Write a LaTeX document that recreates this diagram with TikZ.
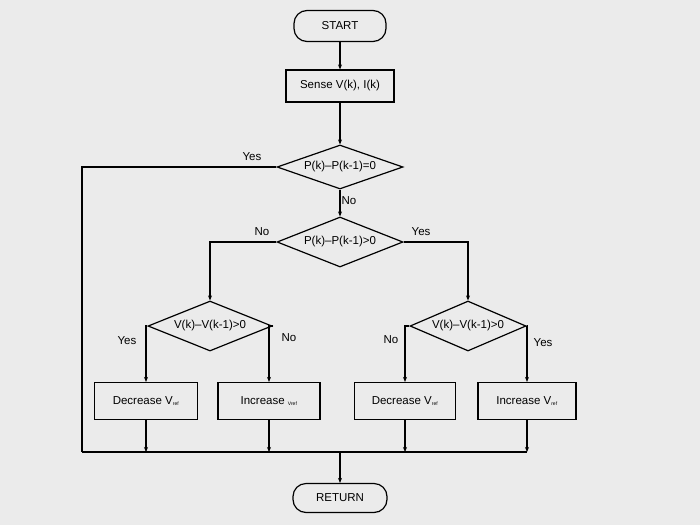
\documentclass[tikz,border=0pt]{standalone}
\usepackage{fontspec}
\setmainfont{Liberation Sans}
\usetikzlibrary{shapes.geometric,arrows.meta}
\begin{document}
\begin{tikzpicture}[x=1pt,y=-1pt,font=\fontsize{11.5}{13}\selectfont,
  line width=1.2pt, >={Stealth[length=5pt,width=4pt]},
  box/.style={draw,rectangle,inner sep=0pt},
  term/.style={draw,rounded corners=13pt,inner sep=0pt},
  dec/.style={draw,diamond,aspect=2.5,inner sep=0pt},
  lab/.style={inner sep=1pt}]
\fill[black!8] (0,0) rectangle (700,525);
\useasboundingbox (0,0) rectangle (700,525);
\node[term,minimum width=92pt,minimum height=31pt] (start) at (340,26) {START};
\node[box,minimum width=108pt,minimum height=32pt] (sense) at (340,86) {Sense V(k), I(k)};
\node[dec,minimum width=126pt,minimum height=44pt] (d1) at (340,167) {P(k)--P(k-1)=0};
\node[dec,minimum width=126pt,minimum height=50pt] (d2) at (340,242) {P(k)--P(k-1)>0};
\node[dec,minimum width=124pt,minimum height=50pt] (d3) at (210,326) {V(k)--V(k-1)>0};
\node[dec,minimum width=116pt,minimum height=50pt] (d4) at (468,326) {V(k)--V(k-1)>0};
\node[box,minimum width=103pt,minimum height=37pt] (b1) at (146,401) {Decrease V\textsubscript{\tiny ref}};
\node[box,minimum width=102pt,minimum height=37pt] (b2) at (269,401) {Increase \textsubscript{\tiny Vref}};
\node[box,minimum width=101pt,minimum height=37pt] (b3) at (405,401) {Decrease V\textsubscript{\tiny ref}};
\node[box,minimum width=98pt,minimum height=37pt] (b4) at (527,401) {Increase V\textsubscript{\tiny ref}};
\node[term,minimum width=94pt,minimum height=29pt] (ret) at (340,498) {RETURN};
\coordinate (lt) at (82,452);
\coordinate (rt) at (527,452);
\coordinate (m) at (340,452);
\draw[->] (start.south) -- (sense.north);
\draw[->] (sense.south) -- (d1.north);
\draw[->] (d1.south) -- node[lab,right,pos=0.4]{No} (d2.north);
\draw (d1.west) -- (82,167) -- (lt);
\node[lab] (yes1) at (252,157) {Yes};
\draw[->] (d2.west) -- (d3.north |- d2.west) -- (d3.north);
\draw[->] (d2.east) -- (d4.north |- d2.east) -- (d4.north);
\node[lab] (no2) at (262,232) {No};
\node[lab] (yes2) at (421,232) {Yes};
\draw[->] (d3.west) -- (b1.north |- d3.west) -- (b1.north);
\draw[->] (d3.east) -- (b2.north |- d3.east) -- (b2.north);
\draw[->] (d4.west) -- (b3.north |- d4.west) -- (b3.north);
\draw[->] (d4.east) -- (b4.north |- d4.east) -- (b4.north);
\node[lab] (y3) at (127,341) {Yes};
\node[lab] (n3) at (289,338) {No};
\node[lab] (n4) at (391,340) {No};
\node[lab] (y4) at (543,343) {Yes};
\foreach \b in {b1,b2,b3,b4} \draw[->] (\b.south) -- (\b.south |- lt);
\draw (lt) -- (rt);
\draw[->] (m) -- (ret.north);
\end{tikzpicture}
\end{document}
